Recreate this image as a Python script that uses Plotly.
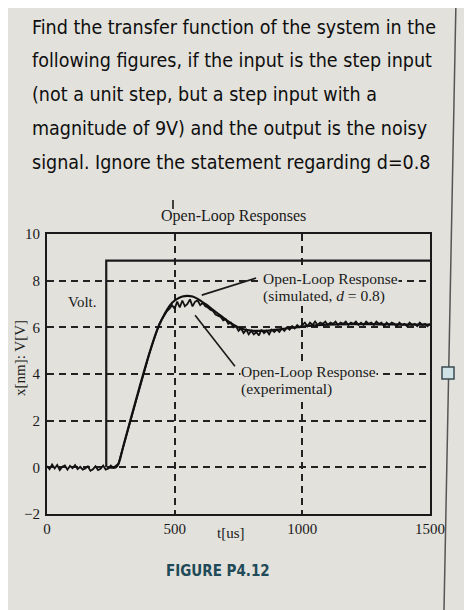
import plotly.graph_objects as go

# page / plot geometry (pixels of the 472x610 photo)
LARGURA, ALTURA = 472, 610
ESQ, DIR, TOPO, BASE = 47, 430, 234, 514
DESLOC = 8  # the page body adds 8px before the figure

COR_FUNDO = "#e2e1dc"
COR_TEXTO = "#1a1a1a"
COR_FIGURA = "#1f4a58"
SERIFA = "Liberation Serif, Times New Roman, serif"
ESTREITA = "Liberation Sans Narrow, Arial Narrow, DejaVu Sans Condensed, sans-serif"

enunciado = [
    "Find the transfer function of the system in the",
    "following figures, if the input is the step input",
    "(not a unit step, but a step input with a",
    "magnitude of 9V) and the output is the noisy",
    "signal. Ignore the statement regarding d=0.8",
]

x_ticks = [0, 500, 1000, 1500]
y_ticks = [-2, 0, 2, 4, 6, 8, 10]

# experimental (noisy) response, one sample every 10 us from 0 to 1500
t_exp = list(range(0, 1510, 10))
v_exp = [
    0.05, -0.08, 0.12, -0.05, 0.10, -0.12, 0.03, 0.08, -0.10, 0.06,
    -0.04, 0.10, -0.08, 0.02, -0.10, -0.05, 0.04, -0.15, -0.08, 0.05,
    -0.12, -0.06, 0.08, -0.10, -0.05, 0.08, -0.02, 0.05, 0.15, 0.55,
    0.95, 1.35, 1.75, 2.15, 2.55, 2.95, 3.30, 3.70, 4.10, 4.50,
    4.85, 5.20, 5.55, 5.90, 6.15, 6.35, 6.55, 6.70, 6.80, 6.95,
    6.80, 7.10, 6.85, 7.15, 6.90, 7.00, 7.20, 6.90, 7.10, 7.15,
    6.95, 7.05, 6.90, 6.85, 6.75, 6.70, 6.55, 6.50, 6.45, 6.30,
    6.35, 6.15, 6.20, 6.00, 6.05, 5.85, 5.95, 5.75, 5.90, 5.70,
    5.85, 5.70, 5.80, 5.65, 5.90, 5.75, 5.85, 5.70, 5.90, 5.80,
    5.90, 5.80, 5.95, 5.85, 6.00, 5.90, 6.05, 5.95, 6.10, 6.00,
    6.10, 6.20, 6.05, 6.20, 6.10, 6.25, 6.10, 6.20, 6.15, 6.25,
    6.10, 6.20, 6.15, 6.25, 6.10, 6.20, 6.15, 6.25, 6.10, 6.20,
    6.15, 6.25, 6.10, 6.20, 6.10, 6.25, 6.15, 6.20, 6.10, 6.25,
    6.15, 6.20, 6.05, 6.20, 6.10, 6.20, 6.15, 6.05, 6.20, 6.10,
    6.15, 6.05, 6.20, 6.10, 6.15, 6.05, 6.20, 6.10, 6.15, 6.05,
    6.15,
]

# simulated (smooth) response
t_sim = [240, 270, 280, 300, 350, 400, 430, 450, 470, 490, 510, 530, 550,
         570, 590, 620, 650, 680, 710, 740, 770, 800, 850, 900, 950, 1000,
         1050, 1100, 1200, 1300, 1400, 1500]
v_sim = [0.0, 0.0, 0.15, 0.95, 2.95, 4.85, 5.85, 6.35, 6.75, 7.05, 7.22, 7.32,
         7.35, 7.32, 7.22, 7.0, 6.75, 6.5, 6.25, 6.05, 5.92, 5.86, 5.85, 5.9,
         5.97, 6.03, 6.08, 6.12, 6.14, 6.13, 6.12, 6.12]

# second (overlaid) plot frame from the book figure
caixa_t = [232, 232, 1500]
caixa_v = [0, 8.86, 8.86]


def xp(x):
    return (x - ESQ) / (DIR - ESQ)


def yp(y):
    return (BASE - y) / (BASE - TOPO)


def texto(fig, txt, x, y, tam, fonte=SERIFA, cor=COR_TEXTO, xanchor="center", **kw):
    fig.add_annotation(
        text=txt, xref="paper", yref="paper", x=xp(x), y=yp(y),
        xanchor=xanchor, yanchor="middle",
        showarrow=False, font=dict(family=fonte, size=tam, color=cor), **kw
    )


fig = go.Figure()
fig.add_trace(go.Scatter(x=caixa_t, y=caixa_v, mode="lines",
                         line=dict(color=COR_TEXTO, width=2.2), hoverinfo="skip"))
fig.add_trace(go.Scatter(x=t_sim, y=v_sim, mode="lines",
                         line=dict(color="#111111", width=2.2, shape="spline")))
fig.add_trace(go.Scatter(x=t_exp, y=v_exp, mode="lines",
                         line=dict(color="#111111", width=1.8)))

fig.update_layout(
    width=LARGURA, height=ALTURA, showlegend=False,
    paper_bgcolor=COR_FUNDO, plot_bgcolor=COR_FUNDO,
    margin=dict(l=ESQ - DESLOC, r=LARGURA - DIR + DESLOC,
                t=TOPO - DESLOC, b=ALTURA - BASE + DESLOC),
    font=dict(family=SERIFA, size=15, color=COR_TEXTO),
)
eixo = dict(
    showline=True, linecolor=COR_TEXTO, linewidth=2.2, mirror=True,
    showgrid=True, gridcolor="#222222", gridwidth=2, griddash="7px,5px",
    zeroline=False, ticks="", tickfont=dict(family=SERIFA, size=15, color=COR_TEXTO),
)
fig.update_xaxes(range=[0, 1500], tickvals=x_ticks, ticktext=[str(v) for v in x_ticks],
                 ticklabelstandoff=0, **eixo)
fig.update_yaxes(range=[-2, 10], tickvals=y_ticks, ticklabelstandoff=2, **eixo)

# leader lines
fig.add_shape(type="line", x0=606, y0=7.38, x1=819, y1=8.11,
              line=dict(color=COR_TEXTO, width=1.6))
fig.add_shape(type="line", x0=580, y0=6.52, x1=736, y1=4.33,
              line=dict(color=COR_TEXTO, width=1.6))
fig.add_shape(type="line", xref="paper", yref="paper",
              x0=xp(173), y0=yp(200), x1=xp(173), y1=yp(209),
              line=dict(color=COR_TEXTO, width=1.6))

# labels inside the chart (their background hides the dashed grid behind them)
rotulo = dict(xanchor="left", bgcolor=COR_FUNDO, borderpad=0)
texto(fig, "Open-Loop Responses", 233, 216, 16)
texto(fig, "Volt.", 82, 302, 15)
texto(fig, "Open-Loop Response", 262, 278, 15.5, **rotulo)
texto(fig, "(simulated, <i>d</i> = 0.8)", 262, 296, 15.5, **rotulo)
texto(fig, "Open-Loop Response", 240, 371, 15.5, **rotulo)
texto(fig, "(experimental)", 240, 389, 15.5, **rotulo)
texto(fig, "x[nm]: V[V]", 20, 358, 15, textangle=-90)
texto(fig, "t[us]", 231, 533, 15)

# page text
for i, linha in enumerate(enunciado):
    texto(fig, linha, 30, 27 + i * 33.8, 19.5, fonte=ESTREITA, cor="#0e0e0e",
          xanchor="left")
texto(fig, "<b>FIGURE P4.12</b>", 218, 571, 15, fonte=ESTREITA, cor=COR_FIGURA)

# page edge and scroll handle on the right of the photo
fig.add_shape(type="line", xref="paper", yref="paper",
              x0=xp(456), y0=yp(0), x1=xp(444), y1=yp(610),
              line=dict(color="#555555", width=1.5))
fig.add_shape(type="rect", xref="paper", yref="paper",
              x0=xp(442), y0=yp(367), x1=xp(454), y1=yp(379),
              fillcolor="#cfe3e6", line=dict(color="#3a4a50", width=1.5))

fig.write_html("out.html")
